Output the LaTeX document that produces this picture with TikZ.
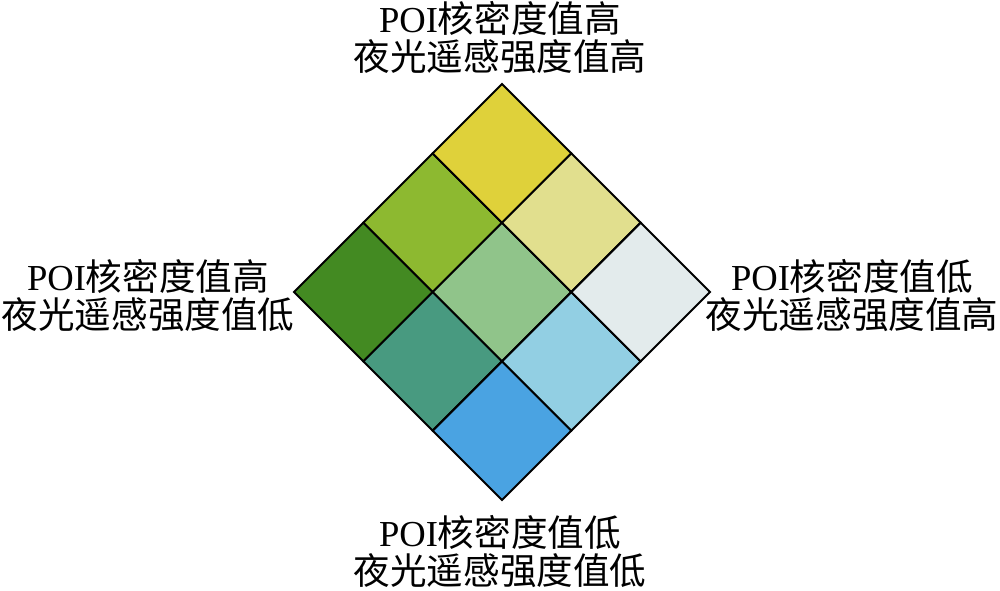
\documentclass[tikz,border=0pt]{standalone}
\usepackage{fontspec}
\setmainfont{Liberation Serif}
\newfontfamily\cjk{Noto Sans CJK SC}
\usetikzlibrary{calc}
\definecolor{cYellow}{HTML}{DFD13A}
\definecolor{cLGreen}{HTML}{8DB930}
\definecolor{cPYellow}{HTML}{E1DF8E}
\definecolor{cDGreen}{HTML}{438A22}
\definecolor{cCenter}{HTML}{90C48A}
\definecolor{cGrey}{HTML}{E3EBEC}
\definecolor{cTeal}{HTML}{489A80}
\definecolor{cLBlue}{HTML}{92CFE3}
\definecolor{cBlue}{HTML}{4AA3E2}
\tikzset{
  cell/.style={draw=black, line width=1pt, line join=miter},
  lab/.style={align=center, inner sep=0pt, font=\fontsize{18.3}{19}\selectfont}
}
\begin{document}
\begin{tikzpicture}[x=0.5pt,y=-0.5pt]
\useasboundingbox (0,0) rectangle (1000,590);
\coordinate (L) at (294,292);
\coordinate (U) at (69.333,-69.333);
\coordinate (V) at (69.333,69.333);
\foreach \a/\b/\c in {0/0/cDGreen,1/0/cLGreen,2/0/cYellow,0/1/cTeal,1/1/cCenter,2/1/cPYellow,0/2/cBlue,1/2/cLBlue,2/2/cGrey}{
  \draw[cell, fill=\c] ($(L)+\a*(U)+\b*(V)$) -- ++(U) -- ++(V) -- ++($-1*(U)$) -- cycle;
}
\node[lab] (top) at (500,38) {POI{\cjk 核密度值高}\\{\cjk 夜光遥感强度值高}};
\node[lab] (left) at (148,296) {POI{\cjk 核密度值高}\\{\cjk 夜光遥感强度值低}};
\node[lab] (right) at (852,296) {POI{\cjk 核密度值低}\\{\cjk 夜光遥感强度值高}};
\node[lab] (bottom) at (500,552) {POI{\cjk 核密度值低}\\{\cjk 夜光遥感强度值低}};
\end{tikzpicture}
\end{document}
